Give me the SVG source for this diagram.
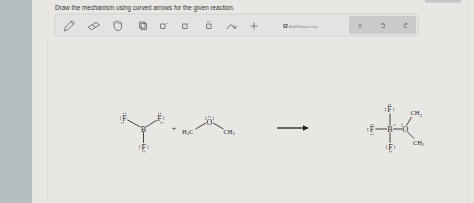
<svg xmlns="http://www.w3.org/2000/svg" width="474" height="203" viewBox="0 0 474 203">
<defs>
<style>
.atom{font-family:"Liberation Serif",serif;font-size:8px;fill:#2a2a2a;text-anchor:middle}
.grp{font-family:"Liberation Serif",serif;font-size:6.5px;fill:#2a2a2a}
.bond{stroke:#2f2f2f;stroke-width:0.9;fill:none}
.lp{fill:#2f2f2f}
.ico{stroke:#6e6e6e;stroke-width:0.9;fill:none;stroke-linecap:round;stroke-linejoin:round}
.conn{stroke:#222;stroke-width:1.3;fill:none}
</style>
<marker id="ah" viewBox="0 0 10 10" refX="9" refY="5" markerWidth="6" markerHeight="6" orient="auto" markerUnits="userSpaceOnUse">
<path d="M0,0 L10,5 L0,10 z" fill="#222"/>
</marker>
<g id="pairH"><circle cx="-1" cy="0" r="0.5"/><circle cx="1" cy="0" r="0.5"/></g>
<g id="pairV"><circle cx="0" cy="-1" r="0.5"/><circle cx="0" cy="1" r="0.5"/></g>
</defs>

<!-- background -->
<rect x="0" y="0" width="474" height="203" fill="#e8e7e3"/>
<rect x="0" y="0" width="32" height="203" fill="#b7bec1"/>
<line x1="47" y1="40" x2="47" y2="203" stroke="#dcdbd7" stroke-width="0.8"/>
<line x1="468" y1="0" x2="468" y2="203" stroke="#dcdbd7" stroke-width="0.8"/>
<rect x="425" y="0" width="36" height="2.5" fill="#c4c6c6"/>

<!-- header text -->
<text x="55" y="9.5" font-family="Liberation Sans,sans-serif" font-size="6.3" fill="#333">Draw the mechanism using curved arrows for the given reaction.</text>

<!-- toolbar -->
<g id="toolbar">
<rect x="55" y="14" width="363" height="22" rx="2.5" fill="#e3e3e1" stroke="#cfcfcc" stroke-width="0.8"/>
<rect x="349" y="16" width="67" height="18" rx="1.5" fill="#cacac8"/>
<path class="ico" d="M64.5,30.5 L65.5,27 L72,20.5 L74.5,23 L68,29.5 Z M70.8,21.8 L73.2,24.2"/>
<path class="ico" d="M88.5,27 L96,22.5 L99.5,25 L92,29.5 Z M92.5,25 L95.5,27.2"/>
<path class="ico" d="M114,24 Q114,30.5 118,30.5 Q121.5,30.5 121.5,26 L121.5,23 M114,24 L114,22 M116,23 L116,20.8 M118,23 L118,20.8 M120,24 L120,21.8"/>
<rect class="ico" x="140" y="22" width="5" height="6"/>
<rect class="ico" x="141.5" y="23.5" width="5" height="6"/>
<rect class="ico" x="161" y="24" width="4" height="4.5"/>
<text x="166" y="24" font-family="Liberation Sans,sans-serif" font-size="3.5" fill="#6e6e6e">+</text>
<rect class="ico" x="183" y="24" width="4" height="4.5"/>
<text x="188" y="24" font-family="Liberation Sans,sans-serif" font-size="3.5" fill="#6e6e6e">-</text>
<rect class="ico" x="207" y="24" width="4" height="4.5"/>
<circle cx="208" cy="21.5" r="0.55" fill="#6e6e6e"/><circle cx="210" cy="21.5" r="0.55" fill="#6e6e6e"/>
<path class="ico" d="M227,29 Q231,21 235,28 M233,27 L235,28.5 L236,26"/>
<path class="ico" d="M254,23 L254,29 M251,26 L257,26"/>
<rect class="ico" x="284" y="24.5" width="3" height="3"/>
<path class="ico" d="M284.5,26 L285.5,27 L287.5,24"/>
<text x="289" y="27.5" font-family="Liberation Sans,sans-serif" font-size="3.6" fill="#858585">Add/Remove step</text>
<path class="ico" d="M359,24.5 L361.5,27 M361.5,24.5 L359,27"/>
<path class="ico" d="M382,24 L384,24 Q385.5,25.5 384,27.5 L382.5,27.5 M382,24 L383,23"/>
<path class="ico" d="M407,24 L405,24 Q403.5,25.5 405,27.5 L406.5,27.5 M407,24 L406,23"/>
</g>

<!-- connectors -->
<g id="connectors">
<line class="conn" x1="277" y1="128" x2="308" y2="128" marker-end="url(#ah)"/>
</g>

<!-- BF3 -->
<g id="bf3">
<line class="bond" x1="140.5" y1="127" x2="127.5" y2="120"/>
<line class="bond" x1="146" y1="127" x2="157" y2="120"/>
<line class="bond" x1="143.5" y1="131.5" x2="143.5" y2="143"/>
<text class="atom" x="143.5" y="131.7">B</text>
<text class="atom" x="124.5" y="120.7">F</text>
<text class="atom" x="159.5" y="120.7">F</text>
<text class="atom" x="143.8" y="149.7">F</text>
<g class="lp">
<use href="#pairV" x="120.3" y="118"/><use href="#pairH" x="124.5" y="113.3"/><use href="#pairH" x="122.5" y="122.7"/>
<use href="#pairV" x="163.7" y="118"/><use href="#pairH" x="159.5" y="113.3"/><use href="#pairH" x="161.5" y="122.7"/>
<use href="#pairV" x="139.6" y="147"/><use href="#pairV" x="148" y="147"/><use href="#pairH" x="143.8" y="151.7"/>
</g>
</g>

<text x="174" y="131" font-family="Liberation Serif,serif" font-size="8" fill="#2a2a2a" text-anchor="middle">+</text>

<!-- dimethyl ether -->
<g id="ether">
<text class="grp" x="182" y="133.5">H<tspan font-size="4.5" dy="1.5">3</tspan><tspan dy="-1.5">C</tspan></text>
<line class="bond" x1="195.5" y1="129" x2="206" y2="123"/>
<text class="atom" x="209.5" y="124.7">O</text>
<line class="bond" x1="213" y1="123" x2="223.5" y2="129"/>
<text class="grp" x="223.5" y="133.5">CH<tspan font-size="4.5" dy="1.5">3</tspan></text>
<g class="lp"><use href="#pairH" x="209.5" y="116.8"/><use href="#pairV" x="205.8" y="118.5"/><use href="#pairV" x="213.2" y="118.5"/></g>
</g>

<!-- product -->
<g id="product">
<line class="bond" x1="375.5" y1="129" x2="387" y2="129"/>
<line class="bond" x1="390" y1="125.5" x2="390" y2="113.5"/>
<line class="bond" x1="390" y1="132.5" x2="390" y2="143"/>
<line class="bond" x1="393" y1="129" x2="402.5" y2="129"/>
<line class="bond" x1="406.5" y1="125.5" x2="411.5" y2="117"/>
<line class="bond" x1="407.5" y1="132" x2="414" y2="138.5"/>
<text class="atom" x="390" y="131.8">B</text>
<text class="atom" x="372" y="131.8">F</text>
<text class="atom" x="389.5" y="112">F</text>
<text class="atom" x="390.5" y="149.7">F</text>
<text class="atom" x="405.5" y="131.8">O</text>
<text class="grp" x="410.5" y="115">CH<tspan font-size="4.5" dy="1.5">3</tspan></text>
<text class="grp" x="413" y="144.5">CH<tspan font-size="4.5" dy="1.5">3</tspan></text>
<line x1="393.5" y1="125" x2="395.5" y2="125" stroke="#333" stroke-width="0.6"/>
<g class="lp">
<use href="#pairV" x="367.8" y="129.5"/><use href="#pairH" x="372" y="124.8"/><use href="#pairH" x="372" y="134.2"/>
<use href="#pairV" x="385.3" y="109.5"/><use href="#pairV" x="393.7" y="109.5"/><use href="#pairH" x="389.5" y="104.8"/>
<use href="#pairV" x="386.3" y="147"/><use href="#pairV" x="394.7" y="147"/><use href="#pairH" x="390.5" y="151.7"/>
<use href="#pairV" x="402" y="125"/>
</g>
</g>
</svg>
